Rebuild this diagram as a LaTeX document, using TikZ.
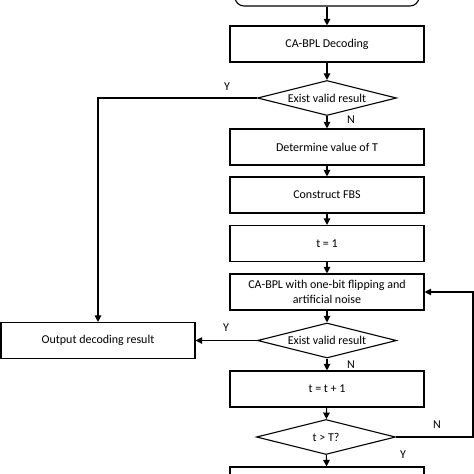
\documentclass[tikz,border=0pt]{standalone}
\usepackage{fontspec}
\setmainfont{Carlito}
\usetikzlibrary{arrows.meta,shapes.geometric}

\begin{document}
\begin{tikzpicture}[x=1pt,y=-1pt,line width=1.1pt,font=\fontsize{12}{14.5}\selectfont,
  box/.style={draw,minimum width=194pt,minimum height=36pt,inner sep=2pt,align=center},
  decision/.style={draw,diamond,aspect=4,minimum width=139pt,minimum height=35pt,inner sep=0pt},
  flow/.style={-{Triangle[length=6.5pt,width=6.5pt]}}]
\path[use as bounding box,clip] (0,0) rectangle (474,474);
% boxes down the middle
\node[draw,rounded corners=9pt,minimum width=184pt,minimum height=36pt] (start) at (327,-12) {};
\node[box] (bpl) at (327,44) {CA-BPL Decoding};
\node[decision] (valid1) at (327,98) {Exist valid result};
\node[box] (detT) at (327,147) {Determine value of T};
\node[box] (fbs) at (327,195) {Construct FBS};
\node[box] (tone) at (327,243.5) {t = 1};
\node[box] (flip) at (327,292) {CA-BPL with one-bit flipping and\\artificial noise};
\node[decision] (valid2) at (327,340.5) {Exist valid result};
\node[box] (tinc) at (327,389) {t = t + 1};
\node[decision] (tgt) at (326,437) {t > T?};
\node[box] (last) at (327,485) {};
\node[box] (output) at (98,340.5) {Output decoding result};
% Y / N labels
\node (y1) at (227,87) {Y};
\node (n1) at (351,120) {N};
\node (y2) at (226,328) {Y};
\node (n2) at (351,365) {N};
\node (n3) at (437,425) {N};
\node (y3) at (403,455) {Y};
\coordinate (back) at (473,437);
% connectors
\draw[flow] (start) -- (bpl);
\draw[flow] (bpl) -- (valid1);
\draw[flow] (valid1) -- (detT);
\draw[flow] (detT) -- (fbs);
\draw[flow] (fbs) -- (tone);
\draw[flow] (tone) -- (flip);
\draw[flow] (flip) -- (valid2);
\draw[flow] (valid2) -- (tinc);
\draw[flow] (tinc) -- (tgt);
\draw[flow] (tgt) -- (last);
\draw[flow] (valid1.west) -| (output.north);
\draw[flow] (valid2.west) -- (output.east);
\draw[flow] (tgt.east) -- (back) |- (flip.east);
\end{tikzpicture}
\end{document}
